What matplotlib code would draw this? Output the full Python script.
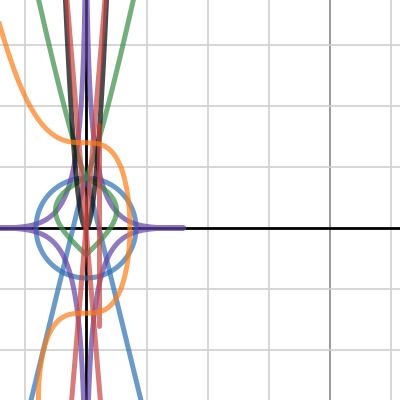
import numpy as np
import matplotlib
matplotlib.use("Agg")
import matplotlib.pyplot as plt

# curve parameters (units: grid squares)
circle_r = 0.82
blue_apex, blue_slope = 0.87, 4.1
astroid_ax, astroid_ay, astroid_p = 1.6, 8.0, 6
green_a, green_b, green_c, green_arm = 1.3, 1.26, -0.44, 0.38
black_k = 33.0
red_slope = 12.0
red_stroke_x, red_stroke_y = 0.22, (-1.6, 1.69)
orange_amp, orange_c, orange_top = 0.75, 0.89, 0.19

colors = dict(red="#c74440", blue="#2d70b3", green="#388c46",
              purple="#6042a6", orange="#fa7e19", black="#000000")

fig = plt.figure(figsize=(4, 4), dpi=100)
ax = fig.add_axes([0, 0, 1, 1])
xmin, xmax = -86/61, 314/61
ymin, ymax = -172/61, 228/61
ax.set_xlim(xmin, xmax); ax.set_ylim(ymin, ymax)
for g in range(-1, 6):
    ax.axvline(g, color="#888888" if g == 4 else "#d0d0d0", lw=1.2, zorder=0)
for g in range(-2, 4):
    ax.axhline(g, color="#d0d0d0", lw=1.2, zorder=0)
ax.axhline(0, color="black", lw=2, zorder=1)
ax.axvline(0, color="black", lw=2, zorder=1)
ax.set_xticks([]); ax.set_yticks([])
for s in ax.spines.values():
    s.set_visible(False)

kw = dict(lw=3.6, alpha=0.7, solid_capstyle="round", zorder=3)
t = np.linspace(0, 2*np.pi, 2000)
# blue circle + lines
ax.plot(circle_r*np.cos(t), circle_r*np.sin(t), color=colors["blue"], **kw)
xs = np.linspace(-1, 1, 400)
ax.plot(xs, blue_apex - blue_slope*np.abs(xs), color=colors["blue"], **kw)
# purple astroid-like
c, s_ = np.cos(t), np.sin(t)
ax.plot(astroid_ax*np.sign(c)*np.abs(c)**astroid_p,
        astroid_ay*np.sign(s_)*np.abs(s_)**astroid_p, color=colors["purple"], **kw)
# green: teardrop loop + arms
tg = np.linspace(-3.4, 3.4, 1200)
at = np.abs(tg)
gx = np.where(at <= 1, green_a*tg*(tg**2-1),
              green_arm*np.sign(tg)*np.clip(at-1, 0, None)**0.85)
gy = green_b*at + green_c
ax.plot(gx, gy, color=colors["green"], **kw)
# black
xb = np.linspace(-0.36, 0.36, 400)
ax.plot(xb, black_k*xb**2, color=colors["black"], **kw)
# red
xr = np.linspace(-0.35, 0.35, 100)
ax.plot(xr, red_slope*xr, color=colors["red"], **kw)
ax.plot(xr, -red_slope*xr, color=colors["red"], **kw)
ax.plot([red_stroke_x, red_stroke_x], red_stroke_y, color=colors["red"], **kw)
# orange
so = np.linspace(-np.pi/2-1.7, np.pi/2+2.0, 1000)
xo = orange_amp*np.cos(so) - 0.03 - orange_top*np.clip(so-np.pi/2, 0, None)**2
yo = orange_c*(so + np.sin(2*so)/2)
ax.plot(xo, yo, color=colors["orange"], **kw)

fig.savefig("out.png", dpi=100)
